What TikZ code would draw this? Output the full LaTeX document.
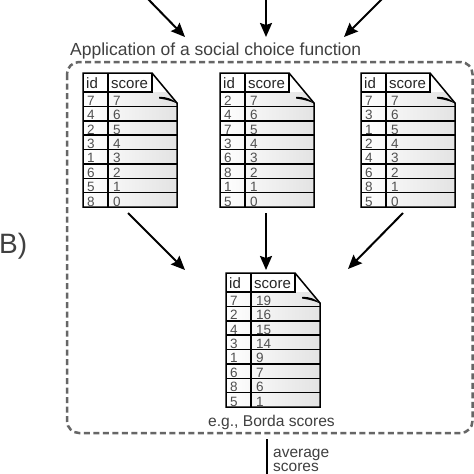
\documentclass[tikz,border=0pt]{standalone}
\usepackage{fontspec}
\setmainfont{Liberation Sans}
\usetikzlibrary{arrows.meta,calc}
\definecolor{txt}{HTML}{404040}
\definecolor{dashgray}{HTML}{666666}
\definecolor{cellgray}{HTML}{505050}
\tikzset{
  conn/.style={line width=2pt,-{Stealth[length=14pt,width=12pt,inset=2pt]}},
  tline/.style={line width=1.5pt,line join=miter},
  hdr/.style={anchor=base west,inner sep=0pt,text=black!85,font=\fontsize{15}{17}\selectfont},
  cell/.style={anchor=base west,inner sep=0pt,text=cellgray,font=\fontsize{13.5}{15}\selectfont},
  lbl/.style={inner sep=0pt,text=txt},
  tablebox/.style={minimum width=94pt,minimum height=134pt,inner sep=0pt},
  groupbox/.style={draw=dashgray,line width=2.5pt,dash pattern=on 6pt off 3.5pt,rounded corners=12pt},
}
\newcommand\doctable[4]{%
\begin{scope}[shift={(#2,#3)}]
  \node[tablebox] (#1) at (47,67) {};
  \begin{scope}
    \clip (0,0) -- (69,0) -- (94,30) -- (94,134) -- (0,134) -- cycle;
    \fill[white] (0,0) rectangle (94,19);
    \foreach \a/\b [count=\k] in {#4} {
      \shade[left color=white,right color=gray!22] (0,{19+(\k-1)*14.375}) rectangle (94,{19+\k*14.375});
    }
  \end{scope}
  \foreach \k in {1,...,7} \draw[tline] (0,{19+\k*14.375}) -- (94,{19+\k*14.375});
  \draw[tline] (0,19) -- (69,19) -- (69,0);
  \draw[tline] (25,0) -- (25,134);
  \draw[tline] (0,0) -- (69,0) -- (94,30) -- (94,134) -- (0,134) -- cycle;
  \fill (76,24) .. controls (84,23.5) and (90,26) .. (94,30.5) .. controls (89,28) and (83,26.5) .. (76,25.5) -- cycle;
  \node[hdr] (#1-h1) at (3,15.5) {id};
  \node[hdr] (#1-h2) at (28,15.5) {score};
  \foreach \a/\b [count=\k] in {#4} {
    \node[cell] (#1-i\k) at (4,{19+\k*14.375-1}) {\a};
    \node[cell] (#1-s\k) at (30,{19+\k*14.375-1}) {\b};
  }
\end{scope}}
\begin{document}
\begin{tikzpicture}[x=1pt,y=-1pt]
  \useasboundingbox[fill=white] (0,0) rectangle (474,474);
  % incoming arrows
  \coordinate (inA) at (147,-2);
  \coordinate (inB) at (266,-2);
  \coordinate (inC) at (383,-2);
  \coordinate (tgtA) at (185,37);
  \coordinate (tgtB) at (266,37);
  \coordinate (tgtC) at (344,37);
  \draw[conn] (inA) -- (tgtA);
  \draw[conn] (inB) -- (tgtB);
  \draw[conn] (inC) -- (tgtC);
  % title
  \node[lbl,anchor=base west,font=\fontsize{17.5}{20}\selectfont] (title) at (70,55) {Application of a social choice function};
  % group box
  \draw[groupbox] (67,62) rectangle (472.5,433);
  \node[lbl,anchor=base west,font=\fontsize{28}{32}\selectfont] (B) at (-1,253) {B)};
  % tables
  \doctable{t1}{83}{73}{7/7,4/6,2/5,3/4,1/3,6/2,5/1,8/0}
  \doctable{t2}{220}{73}{2/7,4/6,7/5,3/4,6/3,8/2,1/1,5/0}
  \doctable{t3}{361}{73}{7/7,3/6,1/5,2/4,4/3,6/2,8/1,5/0}
  \doctable{t4}{226}{273}{7/19,2/16,4/15,3/14,1/9,6/7,8/6,5/1}
  % arrows to aggregated table
  \coordinate (a1s) at (128,213);
  \coordinate (a1e) at (185,270);
  \coordinate (a2s) at (266,213);
  \coordinate (a2e) at (266,270);
  \coordinate (a3s) at (403,213);
  \coordinate (a3e) at (348,269);
  \draw[conn] (a1s) -- (a1e);
  \draw[conn] (a2s) -- (a2e);
  \draw[conn] (a3s) -- (a3e);
  % caption
  \node[lbl,anchor=base,font=\fontsize{15.6}{18}\selectfont] (cap) at (271.5,426) {e.g., Borda scores};
  % output line
  \coordinate (outS) at (267,439);
  \coordinate (outE) at (267,476);
  \draw[line width=2pt] (outS) -- (outE);
  \node[lbl,anchor=base west,font=\fontsize{15.5}{15}\selectfont] (avg) at (273,457.5) {average};
  \node[lbl,anchor=base west,font=\fontsize{15.5}{15}\selectfont] (avg2) at (273,471.5) {scores};
\end{tikzpicture}
\end{document}
